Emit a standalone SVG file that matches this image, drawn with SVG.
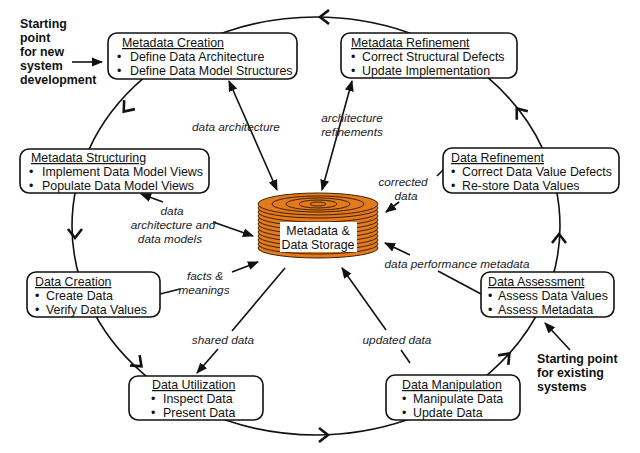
<svg xmlns="http://www.w3.org/2000/svg" width="640" height="453" viewBox="0 0 640 453">
<defs>
<style>
text{font-family:"Liberation Sans",Arial,sans-serif;font-size:12.4px;fill:#111}
.t{text-decoration:underline}
.i{font-style:italic;font-size:11.8px;fill:#222}
.b{font-weight:bold}
.c{text-anchor:middle}
.box{fill:#fff;stroke:#111;stroke-width:1.6}
.ln{fill:none;stroke:#111;stroke-width:1.6}
.ch{fill:none;stroke:#111;stroke-width:2.6}
.dk{fill:#e07b20;stroke:#4a2000;stroke-width:1}
</style>
<marker id="ah" viewBox="0 0 10 10" refX="9" refY="5" markerWidth="7" markerHeight="7" orient="auto-start-reverse"><path d="M0 1 L10 5 L0 9 Z" fill="#111"/></marker>
</defs>
<rect width="640" height="453" fill="#fff"/>
<g id="cycle">
<ellipse cx="316" cy="226" rx="244" ry="209" class="ln" stroke-width="2.2"/>
<g class="ch">
<path d="M-7 -7 L2 0 L-7 7" transform="translate(322,17) rotate(180)"/>
<path d="M-7 -7 L2 0 L-7 7" transform="translate(125,110) rotate(130)"/>
<path d="M-7 -7 L2 0 L-7 7" transform="translate(75,236) rotate(90)"/>
<path d="M-7 -7 L2 0 L-7 7" transform="translate(140,365) rotate(43)"/>
<path d="M-7 -7 L2 0 L-7 7" transform="translate(326,435) rotate(0)"/>
<path d="M-7 -7 L2 0 L-7 7" transform="translate(508,355) rotate(-47)"/>
<path d="M-7 -7 L2 0 L-7 7" transform="translate(559,236) rotate(-90)"/>
<path d="M-7 -7 L2 0 L-7 7" transform="translate(518,110) rotate(-128)"/>
</g>
</g>
<g id="connectors" class="ln">
<line x1="229" y1="81" x2="277" y2="190" marker-start="url(#ah)" marker-end="url(#ah)"/>
<line x1="352" y1="81" x2="322" y2="190" marker-start="url(#ah)" marker-end="url(#ah)"/>
<line x1="437" y1="176" x2="444" y2="169"/>
<line x1="399" y1="202" x2="386" y2="212" marker-end="url(#ah)"/>
<line x1="410" y1="255" x2="385" y2="243" marker-end="url(#ah)"/>
<line x1="438" y1="271" x2="481" y2="294"/>
<line x1="386" y1="330" x2="342" y2="268" marker-end="url(#ah)"/>
<line x1="401" y1="350" x2="410" y2="363"/>
<line x1="285" y1="268" x2="232" y2="331"/>
<line x1="218" y1="349" x2="197" y2="373" marker-end="url(#ah)"/>
<line x1="232" y1="272" x2="258" y2="262" marker-end="url(#ah)"/>
<line x1="160" y1="294" x2="180" y2="289"/>
<line x1="163" y1="202" x2="141" y2="194" marker-end="url(#ah)"/>
<line x1="213" y1="222" x2="253" y2="236" marker-end="url(#ah)"/>
<line x1="72" y1="62" x2="102" y2="62" marker-end="url(#ah)"/>
<line x1="570" y1="350" x2="545" y2="323" marker-end="url(#ah)"/>
</g>
<g id="storage">
<ellipse cx="318" cy="248" rx="60" ry="10" class="dk"/>
<ellipse cx="318" cy="244" rx="60" ry="10" class="dk"/>
<ellipse cx="318" cy="240" rx="60" ry="10" class="dk"/>
<ellipse cx="318" cy="236" rx="60" ry="10" class="dk"/>
<ellipse cx="318" cy="232" rx="60" ry="10" class="dk"/>
<ellipse cx="318" cy="228" rx="60" ry="10" class="dk"/>
<ellipse cx="318" cy="224" rx="60" ry="10" class="dk"/>
<ellipse cx="318" cy="220" rx="60" ry="10" class="dk"/>
<ellipse cx="318" cy="216" rx="60" ry="10" class="dk"/>
<ellipse cx="318" cy="212" rx="60" ry="10" class="dk"/>
<ellipse cx="318" cy="208" rx="60" ry="10" class="dk"/>
<ellipse cx="318" cy="204" rx="60" ry="11" class="dk"/>
<ellipse cx="318" cy="204" rx="46" ry="8" class="dk"/>
<ellipse cx="318" cy="204" rx="32" ry="6" class="dk"/>
<ellipse cx="318" cy="204" rx="19" ry="4" class="dk"/>
<ellipse cx="318" cy="204" rx="8" ry="2" class="dk"/>
<rect x="280" y="222" width="77" height="30" fill="#fff"/>
<text x="318" y="235" class="c">Metadata &amp;</text>
<text x="318" y="249" class="c">Data Storage</text>
</g>
<g id="metadata-creation">
<rect x="108" y="33" width="189" height="46" rx="9" class="box"/>
<text x="122" y="47" class="t">Metadata Creation</text>
<text x="117" y="61">•</text><text x="130" y="61">Define Data Architecture</text>
<text x="117" y="75">•</text><text x="130" y="75">Define Data Model Structures</text>
</g>
<g id="metadata-refinement">
<rect x="341" y="33" width="176" height="45" rx="9" class="box"/>
<text x="351" y="47" class="t">Metadata Refinement</text>
<text x="351" y="61">•</text><text x="362" y="61">Correct Structural Defects</text>
<text x="351" y="75">•</text><text x="362" y="75">Update Implementation</text>
</g>
<g id="metadata-structuring">
<rect x="20" y="149" width="189" height="44" rx="9" class="box"/>
<text x="31" y="162" class="t">Metadata Structuring</text>
<text x="29" y="176">•</text><text x="42" y="176">Implement Data Model Views</text>
<text x="29" y="190">•</text><text x="42" y="190">Populate Data Model Views</text>
</g>
<g id="data-refinement">
<rect x="443" y="148" width="176" height="45" rx="9" class="box"/>
<text x="451" y="162" class="t">Data Refinement</text>
<text x="451" y="176">•</text><text x="462" y="176">Correct Data Value Defects</text>
<text x="451" y="190">•</text><text x="462" y="190">Re-store Data Values</text>
</g>
<g id="data-creation">
<rect x="27" y="272" width="133" height="45" rx="9" class="box"/>
<text x="35" y="286" class="t">Data Creation</text>
<text x="35" y="300">•</text><text x="46" y="300">Create Data</text>
<text x="35" y="314">•</text><text x="46" y="314">Verify Data Values</text>
</g>
<g id="data-assessment">
<rect x="481" y="272" width="133" height="45" rx="9" class="box"/>
<text x="488" y="286" class="t">Data Assessment</text>
<text x="488" y="300">•</text><text x="498" y="300">Assess Data Values</text>
<text x="488" y="314">•</text><text x="498" y="314">Assess Metadata</text>
</g>
<g id="data-utilization">
<rect x="129" y="376" width="134" height="44" rx="9" class="box"/>
<text x="152" y="389" class="t">Data Utilization</text>
<text x="151" y="403">•</text><text x="163" y="403">Inspect Data</text>
<text x="151" y="417">•</text><text x="163" y="417">Present Data</text>
</g>
<g id="data-manipulation">
<rect x="386" y="375" width="134" height="45" rx="9" class="box"/>
<text x="402" y="389" class="t">Data Manipulation</text>
<text x="402" y="403">•</text><text x="413" y="403">Manipulate Data</text>
<text x="402" y="417">•</text><text x="413" y="417">Update Data</text>
</g>
<g id="labels">
<text x="236" y="131" class="i c">data architecture</text>
<text x="352" y="122" class="i c">architecture</text>
<text x="352" y="136" class="i c">refinements</text>
<text x="403" y="186" class="i c">corrected</text>
<text x="406" y="200" class="i c">data</text>
<text x="457" y="268" class="i c">data performance metadata</text>
<text x="397" y="344" class="i c">updated data</text>
<text x="223" y="344" class="i c">shared data</text>
<text x="205" y="280" class="i c">facts &amp;</text>
<text x="204" y="294" class="i c">meanings</text>
<text x="172" y="215" class="i c">data</text>
<text x="173" y="229" class="i c">architecture and</text>
<text x="170" y="243" class="i c">data models</text>
</g>
<g id="start-notes">
<text x="20" y="28" class="b">Starting</text>
<text x="20" y="42" class="b">point</text>
<text x="20" y="56" class="b">for new</text>
<text x="20" y="70" class="b">system</text>
<text x="20" y="84" class="b">development</text>
<text x="537" y="363" class="b">Starting point</text>
<text x="537" y="377" class="b">for existing</text>
<text x="537" y="391" class="b">systems</text>
</g>
</svg>
